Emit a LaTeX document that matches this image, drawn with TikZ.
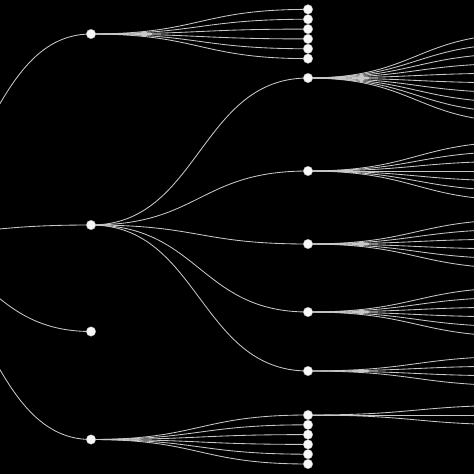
\documentclass[tikz,border=0pt]{standalone}
\usetikzlibrary{calc}
\pgfdeclarelayer{bg}
\pgfsetlayers{bg,main}
\definecolor{linkgray}{gray}{0.78}
\definecolor{dotwhite}{gray}{0.97}
\tikzset{
  link/.style={draw=linkgray, line width=0.85pt},
  dot/.style={circle, fill=dotwhite, draw=gray!60, line width=0.3pt, inner sep=0pt, minimum size=9.5pt},
}
\newcommand\lnk[2]{\draw[link] let \p1=(#1), \p2=(#2) in (\p1) .. controls ({0.5*\x1+0.5*\x2},\y1) and ({0.5*\x1+0.5*\x2},\y2) .. (\p2);}
\begin{document}
\begin{tikzpicture}[x=1pt,y=-1pt]
\useasboundingbox (0,0) rectangle (474,474);
% root (off-screen)
\coordinate (root) at (-126,236.5);
% level 1
\node[dot] (a) at (91,34) {};
\node[dot] (b) at (91,225) {};
\node[dot] (c) at (91,331.5) {};
\node[dot] (d) at (91,439.5) {};
% level 2
\foreach \k in {0,...,5} \node[dot] (a\k) at (308,{34+(\k-2.5)*9.85}) {};
\foreach \k/\y in {0/78,1/171,2/244,3/312,4/371} \node[dot] (b\k) at (308,\y) {};
\foreach \k in {0,...,5} \node[dot] (d\k) at (308,{439.5+(\k-2.5)*9.8}) {};
% level 3 (off-screen)
\foreach \k in {0,...,9} \coordinate (b0\k) at (525,{78+(\k-4.5)*9.8});
\foreach \k in {0,...,6} \coordinate (b1\k) at (525,{171+(\k-3)*9.8});
\foreach \k in {0,...,5} \coordinate (b2\k) at (525,{244+(\k-2.5)*9.8});
\foreach \k in {0,...,5} \coordinate (b3\k) at (525,{312+(\k-2.5)*9.8});
\foreach \k in {0,...,3} \coordinate (b4\k) at (525,{371+(\k-1.5)*9.8});
\foreach \k in {0,...,2} \coordinate (d0\k) at (525,{415+(\k-1)*9.8});
\begin{pgfonlayer}{bg}
\fill[black] (0,0) rectangle (474,474);
\lnk{root}{a}
\lnk{root}{b}
\lnk{root}{c}
\lnk{root}{d}
\foreach \k in {0,...,5} {\lnk{a}{a\k}}
\foreach \k in {0,...,4} {\lnk{b}{b\k}}
\foreach \k in {0,...,5} {\lnk{d}{d\k}}
\foreach \k in {0,...,9} {\lnk{b0}{b0\k}}
\foreach \k in {0,...,6} {\lnk{b1}{b1\k}}
\foreach \k in {0,...,5} {\lnk{b2}{b2\k}}
\foreach \k in {0,...,5} {\lnk{b3}{b3\k}}
\foreach \k in {0,...,3} {\lnk{b4}{b4\k}}
\foreach \k in {0,...,2} {\lnk{d0}{d0\k}}
\end{pgfonlayer}
\end{tikzpicture}
\end{document}
